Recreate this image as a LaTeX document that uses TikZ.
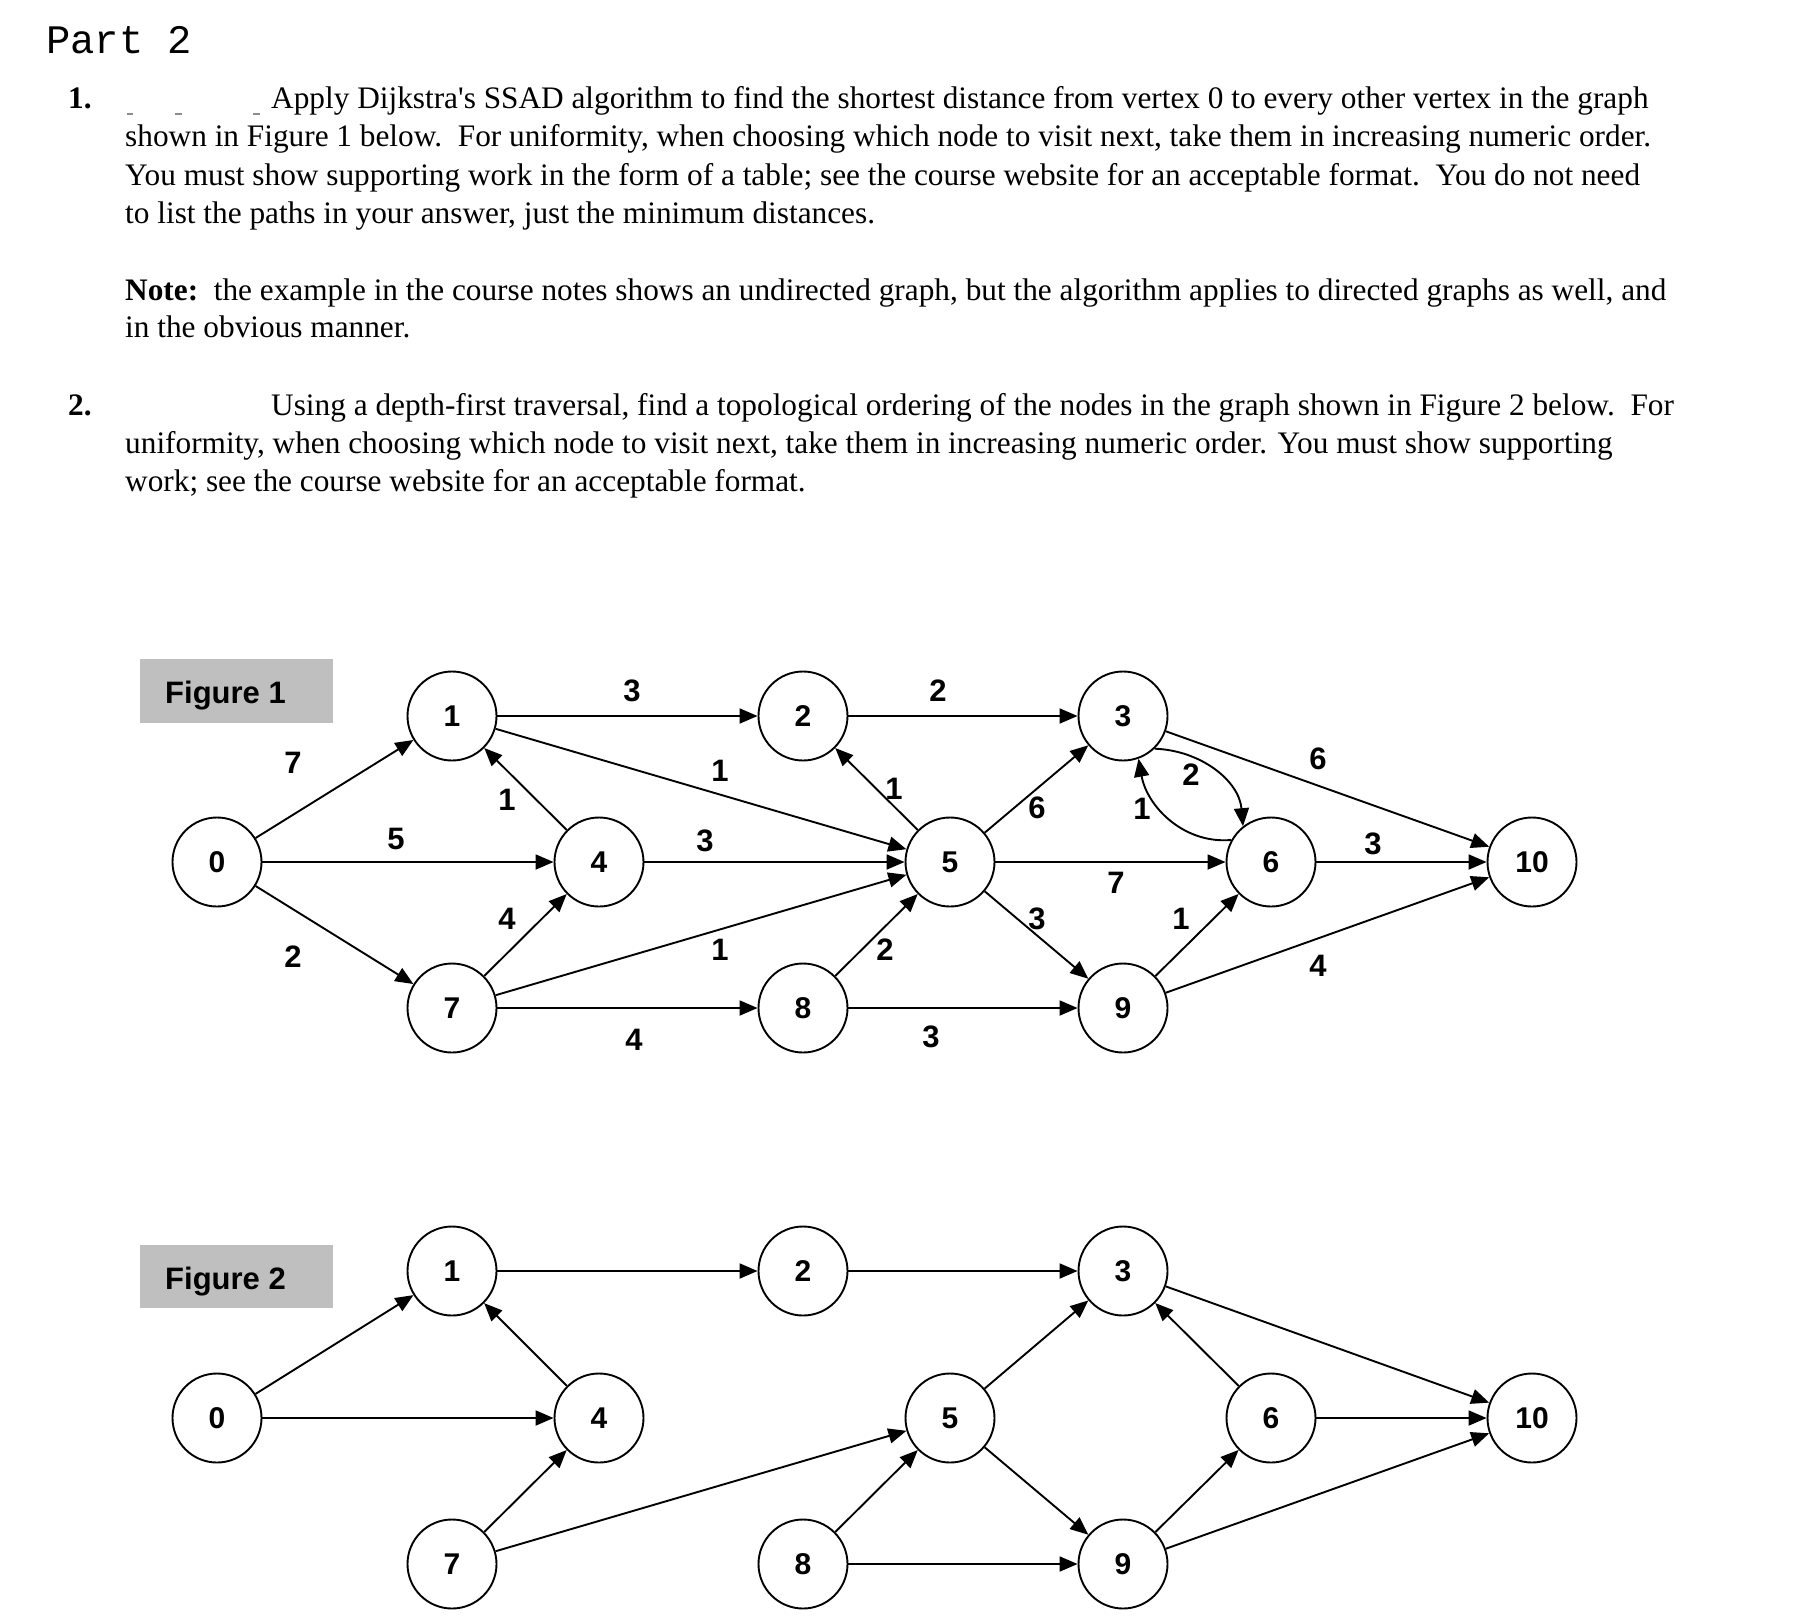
\documentclass[tikz,border=0pt]{standalone}
\usepackage{fontspec}
\usetikzlibrary{arrows.meta}
\newfontfamily\tnr{Liberation Serif}
\newfontfamily\cour{Liberation Mono}
\newfontfamily\lsans{Liberation Sans}
\newcommand{\digfont}{\lsans\fontseries{b}\fontsize{30}{30}\selectfont}
\newcommand{\labfont}{\lsans\fontseries{b}\fontsize{31}{31}\selectfont}
\tikzset{
  vtx/.style={circle, draw, line width=1.9pt, minimum size=89pt, inner sep=0pt, fill=white,
    font=\digfont},
  ed/.style={-{Triangle[length=18pt,width=15pt]}, line width=1.9pt},
  lab/.style={font=\labfont, inner sep=0pt},
  para/.style={anchor=base west, inner sep=0pt, font=\tnr\fontsize{31.3}{36}\selectfont},
  figbox/.style={fill=black!25, draw=none},
  figlab/.style={anchor=base west, inner sep=0pt, font=\labfont},
  faint/.style={draw=black!45, line width=1.6pt}
}
\begin{document}
\begin{tikzpicture}[x=1pt,y=1pt]
\useasboundingbox (0,0) rectangle (1812,-1622);
\fill[white] (0,0) rectangle (1812,-1622);

% ---------- text ----------
\node[anchor=base west, inner sep=0pt, font=\cour\fontsize{40.5}{40.5}\selectfont] (title) at (46,-53) {Part 2};

\node[para] (num1) at (68,-108) {\bfseries 1.};
\draw[faint] (127,-114) -- (133,-114);
\draw[faint] (175,-114) -- (182,-114);
\draw[faint] (253,-114) -- (260,-114);
\node[para] (p1a) at (271,-108) {Apply Dijkstra's SSAD algorithm to find the shortest distance from vertex 0 to every other vertex in the graph};
\node[para] (p1b) at (125,-146) {shown in Figure 1 below.\ \ For uniformity, when choosing which node to visit next, take them in increasing numeric order.};
\node[para] (p1c) at (125,-185) {You must show supporting work in the form of a table; see the course website for an acceptable format.\ \ You do not need};
\node[para] (p1d) at (125,-223) {to list the paths in your answer, just the minimum distances.};

\node[para] (n1a) at (125,-300) {\textbf{Note:}\ \ the example in the course notes shows an undirected graph, but the algorithm applies to directed graphs as well, and};
\node[para] (n1b) at (125,-337) {in the obvious manner.};

\node[para] (num2) at (68,-415) {\bfseries 2.};
\node[para] (p2a) at (271,-415) {Using a depth-first traversal, find a topological ordering of the nodes in the graph shown in Figure 2 below.\ \ For};
\node[para] (p2b) at (125,-453) {uniformity, when choosing which node to visit next, take them in increasing numeric order. You must show supporting};
\node[para] (p2c) at (125,-491) {work; see the course website for an acceptable format.};

% ---------- Figure 1 ----------
\fill[figbox] (140,-659) rectangle (333,-723);
\node[figlab] (f1) at (165,-703) {Figure 1};

\node[vtx] (a0) at (217,-862) {0};
\node[vtx] (a1) at (452,-716) {1};
\node[vtx] (a2) at (803,-716) {2};
\node[vtx] (a3) at (1123,-716) {3};
\node[vtx] (a4) at (599,-862) {4};
\node[vtx] (a5) at (950,-862) {5};
\node[vtx] (a6) at (1271,-862) {6};
\node[vtx] (a7) at (452,-1008) {7};
\node[vtx] (a8) at (803,-1008) {8};
\node[vtx] (a9) at (1123,-1008) {9};
\node[vtx] (a10) at (1532,-862) {10};

\draw[ed] (a0) -- (a1);
\draw[ed] (a0) -- (a4);
\draw[ed] (a0) -- (a7);
\draw[ed] (a1) -- (a2);
\draw[ed] (a1) -- (a5);
\draw[ed] (a4) -- (a1);
\draw[ed] (a4) -- (a5);
\draw[ed] (a7) -- (a4);
\draw[ed] (a7) -- (a5);
\draw[ed] (a7) -- (a8);
\draw[ed] (a5) -- (a2);
\draw[ed] (a8) -- (a5);
\draw[ed] (a2) -- (a3);
\draw[ed] (a8) -- (a9);
\draw[ed] (a5) -- (a3);
\draw[ed] (a5) -- (a6);
\draw[ed] (a5) -- (a9);
\draw[ed] (a3.-46) to[out=-2, in=95] (a6.128);
\draw[ed] (a6.151) to[out=185, in=-80] (a3.-70);
\draw[ed] (a9) -- (a6);
\draw[ed] (a3) -- (a10);
\draw[ed] (a6) -- (a10);
\draw[ed] (a9) -- (a10);

\node[lab] (l01) at (293,-763) {7};
\node[lab] (l04) at (396,-839) {5};
\node[lab] (l07) at (293,-957) {2};
\node[lab] (l12) at (632,-691) {3};
\node[lab] (l15) at (720,-771) {1};
\node[lab] (l41) at (507,-800) {1};
\node[lab] (l45) at (705,-841) {3};
\node[lab] (l74) at (507,-919) {4};
\node[lab] (l75) at (720,-950) {1};
\node[lab] (l78) at (634,-1040) {4};
\node[lab] (l52) at (894,-789) {1};
\node[lab] (l85) at (885,-950) {2};
\node[lab] (l23) at (938,-691) {2};
\node[lab] (l89) at (931,-1037) {3};
\node[lab] (l53) at (1037,-808) {6};
\node[lab] (l56) at (1116,-883) {7};
\node[lab] (l59) at (1037,-919) {3};
\node[lab] (l36) at (1191,-775) {2};
\node[lab] (l63) at (1142,-809) {1};
\node[lab] (l96) at (1181,-919) {1};
\node[lab] (l310) at (1318,-759) {6};
\node[lab] (l610) at (1373,-844) {3};
\node[lab] (l910) at (1318,-966) {4};

% ---------- Figure 2 ----------
\fill[figbox] (140,-1245) rectangle (333,-1308);
\node[figlab] (f2) at (165,-1289) {Figure 2};

\node[vtx] (b0) at (217,-1418) {0};
\node[vtx] (b1) at (452,-1271) {1};
\node[vtx] (b2) at (803,-1271) {2};
\node[vtx] (b3) at (1123,-1271) {3};
\node[vtx] (b4) at (599,-1418) {4};
\node[vtx] (b5) at (950,-1418) {5};
\node[vtx] (b6) at (1271,-1418) {6};
\node[vtx] (b7) at (452,-1564) {7};
\node[vtx] (b8) at (803,-1564) {8};
\node[vtx] (b9) at (1123,-1564) {9};
\node[vtx] (b10) at (1532,-1418) {10};

\draw[ed] (b0) -- (b1);
\draw[ed] (b0) -- (b4);
\draw[ed] (b4) -- (b1);
\draw[ed] (b7) -- (b4);
\draw[ed] (b1) -- (b2);
\draw[ed] (b2) -- (b3);
\draw[ed] (b7) -- (b5);
\draw[ed] (b8) -- (b5);
\draw[ed] (b8) -- (b9);
\draw[ed] (b5) -- (b3);
\draw[ed] (b5) -- (b9);
\draw[ed] (b6) -- (b3);
\draw[ed] (b9) -- (b6);
\draw[ed] (b3) -- (b10);
\draw[ed] (b6) -- (b10);
\draw[ed] (b9) -- (b10);
\end{tikzpicture}
\end{document}
